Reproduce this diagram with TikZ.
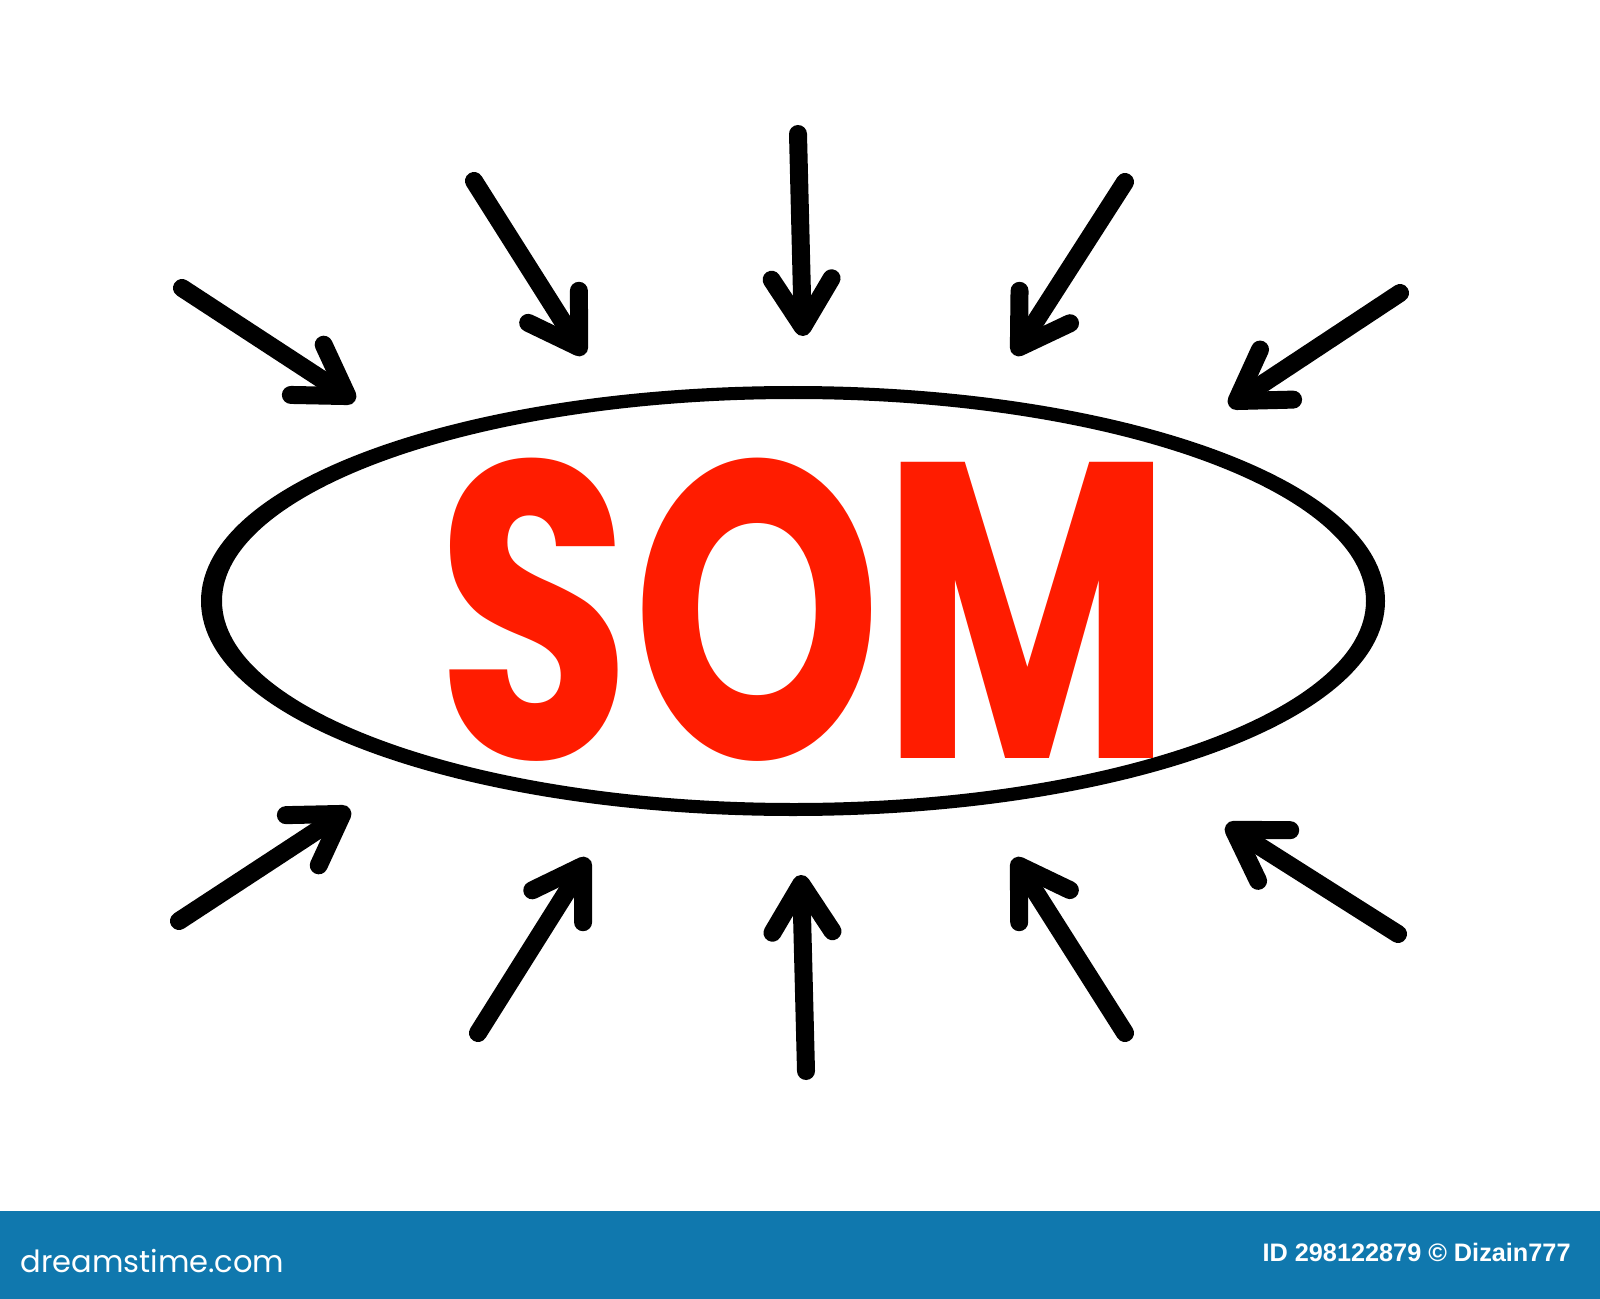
\documentclass[tikz,border=0pt]{standalone}
\usepackage{fontspec}
\usepackage{graphicx}
\usetikzlibrary{arrows.meta,shapes.geometric}
\newfontfamily\somfont{Poppins}
\newfontfamily\barfont{Liberation Sans}
\definecolor{somred}{RGB}{255,28,0}
\definecolor{barblue}{RGB}{16,120,174}
\tikzset{inarrow/.style={line width=9pt, line cap=round,
  -{Straight Barb[length=24pt,width=30pt,line cap=round,line join=round]}},
  ring/.style={draw, ellipse, line width=6pt, inner sep=0pt}}

\begin{document}
\begin{tikzpicture}[x=0.5pt,y=-0.5pt]
\useasboundingbox (0,0) rectangle (1600,1299);

\node [ring, minimum width=586pt, minimum height=209pt] (oval) at (793,601) {};
\node [ring, minimum width=578pt, minimum height=208pt] (oval2) at (794,601) {};
\node [somred, inner sep=0pt] (som) at (805,610) {\resizebox{368pt}{150pt}{\somfont\bfseries SOM}};

% arrows pointing in
\foreach \n/\sx/\sy/\tx/\ty in {1/182/288/355/401, 2/474/181/584/355, 3/798/134/803/336,
  4/1125/182/1014/355, 5/1400/293/1229/406, 6/179/921/350/809, 7/478/1033/588/858,
  8/806/1071/801/875, 9/1125/1033/1014/858, 10/1398/934/1226/825}
{
  \coordinate (s\n) at (\sx,\sy);
  \coordinate (t\n) at (\tx,\ty);
  \draw [inarrow] (s\n) -- (t\n);
}

\fill [barblue] (0,1211) rectangle (1600,1299);
\node [white, inner sep=0pt, anchor=west] (site) at (20,1261) {\resizebox{132pt}{!}{\somfont dreamstime.com}};
\node [white, inner sep=0pt, anchor=east] (credit) at (1571,1252) {\resizebox{154pt}{!}{\barfont\bfseries ID 298122879 © Dizain777}};

\end{tikzpicture}
\end{document}
